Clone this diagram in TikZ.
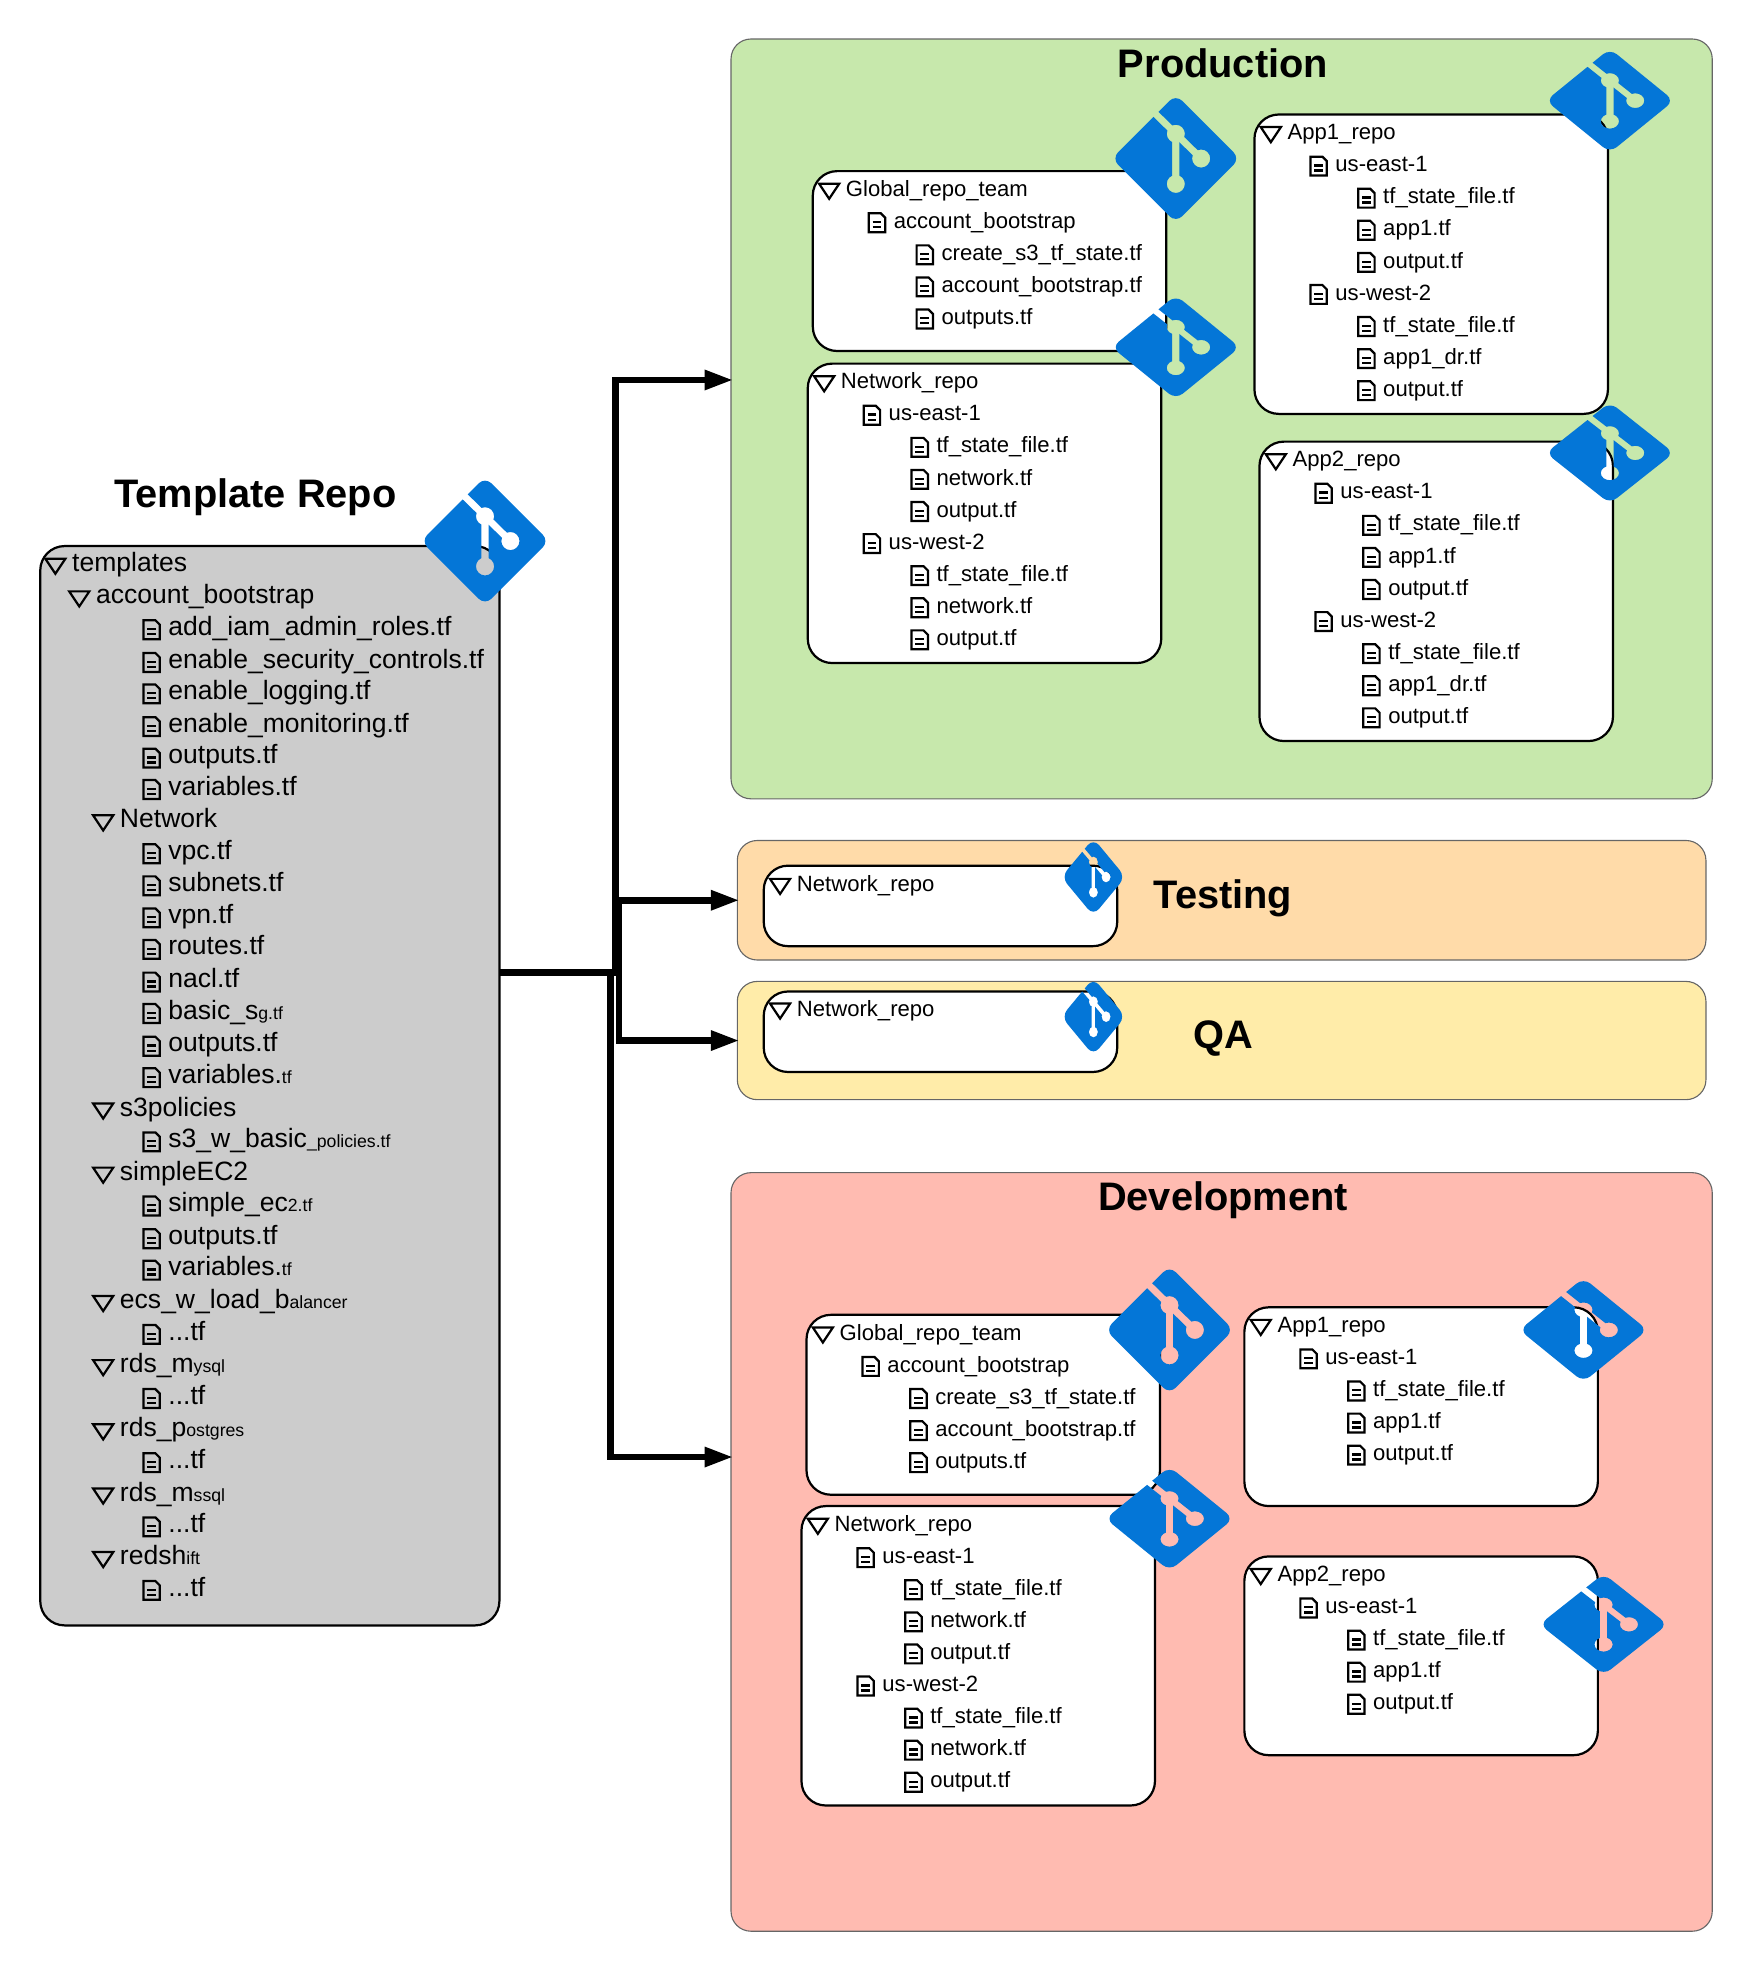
\documentclass[tikz,border=0pt]{standalone}
\usepackage{fontspec}
\setmainfont{Liberation Sans}
\usepackage{tikz}
\usetikzlibrary{arrows.meta, positioning}

\definecolor{prodgreen}{HTML}{C7E8AC}
\definecolor{testorange}{HTML}{FFDBA9}
\definecolor{qayellow}{HTML}{FFECA9}
\definecolor{devred}{HTML}{FFBBB1}
\definecolor{repogray}{HTML}{CCCCCC}
\definecolor{gitblue}{HTML}{0476D7}

\newcommand{\sm}[1]{{\fontsize{8}{9}\selectfont #1}}
\newcommand{\dotstf}{...tf}
\newcommand{\dirrow}[4]{
\pic at (#2-13,#3+3) {foldmark};
\node [treelabel] (#1) at (#2,#3+7) {#4};
}
\newcommand{\filerow}[4]{
\pic at (#2-13,#3+2.5) {fileicon};
\node [treelabel] (#1) at (#2,#3+7) {#4};
}
\newcommand{\regionrows}[4]{
\filerow{#1r}{64}{#2}{#3}
\filerow{#1a}{102}{#2+25.5}{tf\_state\_file.tf}
\filerow{#1b}{102}{#2+51}{#4}
\filerow{#1c}{102}{#2+76.5}{output.tf}
}

\tikzset{
  panel/.style={draw=black!60, line width=0.5pt, rounded corners=9pt, anchor=north west, minimum width=15.6cm, inner sep=0pt, outer sep=0pt},
  repobox/.style={draw, fill=white, line width=1pt, rounded corners=11pt, anchor=north west, minimum width=5.62cm, inner sep=0pt, outer sep=0pt},
  treelabel/.style={anchor=base west, inner sep=0pt, font=\fontsize{10}{12}\selectfont},
  envtitle/.style={inner sep=0pt, font=\fontsize{18}{22}\selectfont\bfseries},
  feedline/.style={line width=3pt},
  feedarrow/.style={line width=3pt, shorten >=-1pt, -{Triangle[length=13pt,width=8.5pt]}},
  foldmark/.pic={\draw [line width=1pt] (-8,-6) -- (8,-6) -- (0,6) -- cycle;},
  fileicon/.pic={
    \draw [line width=1pt] (-6.5,-7.5) -- (3,-7.5) -- (6.5,-4) -- (6.5,7.5) -- (-6.5,7.5) -- cycle;
    \draw [line width=1pt] (-3.5,-0.5) -- (3.5,-0.5);
    \draw [line width=1pt] (-3.5,3.5) -- (3.5,3.5);
  },
  % the white parts of the logo are holes, what is behind it shows through
  gitlogo/.pic={
    \begin{scope}[even odd rule]
    \clip (-2,-2) rectangle (2,2) (0,-0.41) circle [radius=0.15];
    \clip (-2,-2) rectangle (2,2) (0,0.42) circle [radius=0.15];
    \clip (-2,-2) rectangle (2,2) (0.42,0) circle [radius=0.15];
    \clip (-2,-2) rectangle (2,2) (-0.06,-0.41) rectangle (0.06,0.42);
    \clip (-2,-2) rectangle (2,2) (-0.345,-0.83) -- (0.505,0) -- (0.335,0) -- (-0.515,-0.83) -- cycle;
    \fill [gitblue, rounded corners=4pt] (0,-1.06) -- (1.06,0) -- (0,1.06) -- (-1.06,0) -- cycle;
    \end{scope}
  },
  globalrepo/.pic={
    \node [repobox, minimum height=2.86cm] (box) at (0,0) {};
    \dirrow{title}{26}{13}{Global\_repo\_team}
    \filerow{boot}{64}{38.5}{account\_bootstrap}
    \filerow{state}{102}{64}{create\_s3\_tf\_state.tf}
    \filerow{acct}{102}{89.5}{account\_bootstrap.tf}
    \filerow{outs}{102}{115}{outputs.tf}
  },
  networkrepo/.pic={
    \node [repobox, minimum height=4.76cm] (box) at (0,0) {};
    \dirrow{title}{26}{13}{Network\_repo}
    \regionrows{east}{38.5}{us-east-1}{network.tf}
    \regionrows{west}{140.5}{us-west-2}{network.tf}
  },
  applong/.pic={
    \node [repobox, minimum height=4.76cm] (box) at (0,0) {};
    \dirrow{title}{26}{13}{#1}
    \regionrows{east}{38.5}{us-east-1}{app1.tf}
    \regionrows{west}{140.5}{us-west-2}{app1\_dr.tf}
  },
  appshort/.pic={
    \node [repobox, minimum height=3.16cm] (box) at (0,0) {};
    \dirrow{title}{26}{13}{#1}
    \regionrows{east}{38.5}{us-east-1}{app1.tf}
  },
  emptyrepo/.pic={
    \node [repobox, minimum height=1.28cm] (box) at (0,0) {};
    \dirrow{title}{26}{#1}{Network\_repo}
  },
}

\begin{document}
\begin{tikzpicture}[x=0.02cm, y=-0.02cm]
\useasboundingbox (0,0) rectangle (1394,1568.1);

% environments
\node [panel, fill=prodgreen, minimum height=12.08cm] (production) at (581,31) {};
\node [panel, fill=testorange, minimum width=15.4cm, minimum height=1.9cm] (testing) at (586,668) {};
\node [panel, fill=qayellow, minimum width=15.4cm, minimum height=1.88cm] (qa) at (586,780) {};
\node [panel, fill=devred, minimum height=12.06cm] (development) at (581,932) {};

\node [envtitle] (prodtitle) at (972,50) {Production};
\node [envtitle] (testtitle) at (972,714) {Testing};
\node [envtitle] (qatitle) at (972,825) {QA};
\node [envtitle] (devtitle) at (972,954) {Development};
\node [envtitle] (repotitle) at (203,395) {Template Repo};

% template repo
\node [draw, fill=repogray, line width=1pt, rounded corners=11pt, anchor=north west, minimum width=7.3cm, minimum height=17.16cm, inner sep=0pt, outer sep=0pt] (template) at (32,434) {};
\begin{scope}[treelabel/.append style={font=\fontsize{12}{14}\selectfont}]
\foreach \xpos/\ypos/\lbl [count=\n] in {57/447/templates, 76/473/account\_bootstrap, 95/651/Network, 95/880/s3policies, 95/931/simpleEC2, 95/1033/ecs\_w\_load\_b\sm{alancer}, 95/1084/rds\_m\sm{ysql}, 95/1135/rds\_p\sm{ostgres}, 95/1186/rds\_m\sm{ssql}, 95/1236.5/redsh\sm{ift}}
  {\dirrow{dir\n}{\xpos}{\ypos}{\lbl}}
\foreach \ypos/\lbl [count=\n] in {498/add\_iam\_admin\_roles.tf, 524/enable\_security\_controls.tf, 549/enable\_logging.tf, 575/enable\_monitoring.tf, 600/outputs.tf, 625/variables.tf, 676/vpc.tf, 701.5/subnets.tf, 727/vpn.tf, 752/routes.tf, 778/nacl.tf, 803/basic\_s\sm{g.tf}, 829/outputs.tf, 854/variables.\sm{tf}, 905/s3\_w\_basic\sm{\_policies.tf}, 956/simple\_ec\sm{2.tf}, 982/outputs.tf, 1007/variables.\sm{tf}, 1058/\dotstf, 1109/\dotstf, 1160/\dotstf, 1211/\dotstf, 1261.5/\dotstf}
  {\filerow{file\n}{133.5}{\ypos}{\lbl}}
\end{scope}

% repos
\pic (prodglobal) at (646,136) {globalrepo};
\pic (prodnetwork) at (642,289) {networkrepo};
\pic (prodappone) at (997,91) {applong={App1\_repo}};
\pic (prodapptwo) at (1001,351) {applong={App2\_repo}};
\pic (testnetwork) at (607,688) {emptyrepo=13.5};
\pic (qanetwork) at (607,788) {emptyrepo=12.5};
\pic (devglobal) at (641,1045) {globalrepo};
\pic (devnetwork) at (637,1197) {networkrepo};
\pic (devappone) at (989,1039) {appshort={App1\_repo}};
\pic (devapptwo) at (989,1237) {appshort={App2\_repo}};

% logos
\pic [xscale=48, yscale=48] at (385.5,430) {gitlogo};
\pic [xscale=48, yscale=48] at (934.5,126) {gitlogo};
\pic [xscale=48, yscale=39] at (934.5,276) {gitlogo};
\pic [xscale=48, yscale=39] at (1279.5,80) {gitlogo};
\pic [xscale=48, yscale=38] at (1279.5,360) {gitlogo};
\pic [xscale=24, yscale=29] at (869,697) {gitlogo};
\pic [xscale=24, yscale=29] at (869,808) {gitlogo};
\pic [xscale=48, yscale=48] at (929.5,1057) {gitlogo};
\pic [xscale=48, yscale=39] at (929.5,1207) {gitlogo};
\pic [xscale=48, yscale=39] at (1258.5,1057) {gitlogo};
\pic [xscale=48, yscale=38] at (1274.5,1291) {gitlogo};

% connectors
\coordinate (trunk) at (487,773);
\coordinate (prodtrunk) at (489,773);
\coordinate (uptrunk) at (492,773);
\coordinate (devtrunk) at (485,773);
\coordinate (prodin) at (581,302);
\coordinate (devin) at (581,1158);
\draw [feedline] (template.east |- trunk) -- (uptrunk);
\draw [feedarrow] (prodtrunk) |- (prodin);
\draw [feedarrow] (uptrunk) |- (testing.west);
\draw [feedarrow] (uptrunk) |- (qa.west);
\draw [feedarrow] (devtrunk) |- (devin);
\end{tikzpicture}
\end{document}
